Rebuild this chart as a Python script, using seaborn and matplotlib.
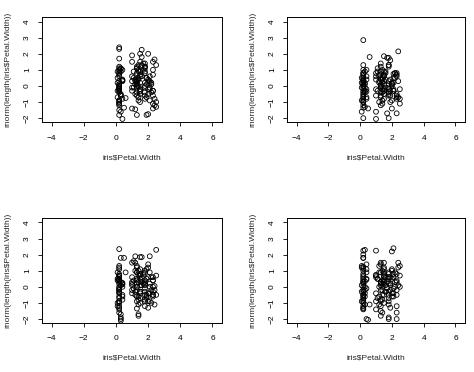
import numpy as np
import pandas as pd
import seaborn as sns
import matplotlib.pyplot as plt

# iris$Petal.Width (150 flowers, dataset order)
petal_width = [
    0.2, 0.2, 0.2, 0.2, 0.2, 0.4, 0.3, 0.2, 0.2, 0.1,
    0.2, 0.2, 0.1, 0.1, 0.2, 0.4, 0.4, 0.3, 0.3, 0.3,
    0.2, 0.4, 0.2, 0.5, 0.2, 0.2, 0.4, 0.2, 0.2, 0.2,
    0.2, 0.4, 0.1, 0.2, 0.2, 0.2, 0.2, 0.1, 0.2, 0.2,
    0.3, 0.3, 0.2, 0.6, 0.4, 0.3, 0.2, 0.2, 0.2, 0.2,
    1.4, 1.5, 1.5, 1.3, 1.5, 1.3, 1.6, 1.0, 1.3, 1.4,
    1.0, 1.5, 1.0, 1.4, 1.3, 1.4, 1.5, 1.0, 1.5, 1.1,
    1.8, 1.3, 1.5, 1.2, 1.3, 1.4, 1.4, 1.7, 1.5, 1.0,
    1.1, 1.0, 1.2, 1.6, 1.5, 1.6, 1.5, 1.3, 1.3, 1.3,
    1.2, 1.4, 1.2, 1.0, 1.3, 1.2, 1.3, 1.3, 1.1, 1.3,
    2.5, 1.9, 2.1, 1.8, 2.2, 2.1, 1.7, 1.8, 1.8, 2.5,
    2.0, 1.9, 2.1, 2.0, 2.4, 2.3, 1.8, 2.2, 2.3, 1.5,
    2.3, 2.0, 2.0, 1.8, 2.1, 1.8, 1.8, 1.8, 2.1, 1.6,
    1.9, 2.0, 2.2, 1.5, 1.4, 2.3, 2.4, 1.8, 1.8, 2.1,
    2.4, 2.3, 1.9, 2.3, 2.5, 2.3, 1.9, 2.0, 2.3, 1.8,
]

# rnorm draws (top-left, top-right, bottom-left, bottom-right)
rnorm_1 = [
    0.9, -0.3, 2.4, 0.1, -1.1, 0.3, -0.6, 2.3, -0.9, 0.5,
    1.0, -0.1, -0.7, 0.2, 1.7, -2.05, 0.35, 0.9, -0.5, 1.1,
    -1.8, 0.4, -0.2, -1.35, 0.8, -1.2, 1.0, 0.0, -1.0, 0.6,
    -0.4, -0.8, 0.9, 1.2, -1.5, 0.3, -0.15, -0.3, 0.1, -1.1,
    -0.6, 1.05, -0.05, -0.75, 0.35, -1.6, 0.7, -0.9, -0.25, 1.1,
    0.5, 2.0, -0.2, -1.8, 0.9, 0.1, 2.25, 1.9, -0.4, 1.3,
    -1.4, 0.7, 0.3, -0.9, 1.1, 0.0, -0.5, 0.6, 1.5, -0.1,
    1.2, 0.4, -0.3, -1.45, 0.8, -0.7, 1.0, 1.4, 0.2, -0.3,
    0.5, 1.5, 0.3, 1.8, -0.2, 0.6, -1.0, 1.2, -0.1, 0.2,
    -0.5, 0.9, 0.1, -0.1, 1.1, 0.4, -0.6, 0.0, 0.9, 0.3,
    -1.0, -1.8, 0.3, 1.2, -0.4, -0.2, 1.0, -0.6, 0.2, 1.3,
    2.0, 0.5, -0.9, -1.75, 1.65, -1.1, 0.8, 0.1, -0.3, 0.6,
    1.5, 0.4, -0.5, 1.1, -0.1, -0.8, 0.0, 0.9, 0.6, 1.3,
    -0.7, -0.2, 0.2, -0.35, 0.4, 0.7, -0.8, -0.4, 1.4, 0.2,
    -1.2, -1.4, 0.1, 1.0, -1.3, -0.3, 0.5, 0.3, -0.6, -0.1,
]
rnorm_2 = [
    0.3, -0.5, 2.85, 0.0, -1.0, 1.0, -0.3, 0.8, -2.0, -1.6,
    0.5, -0.8, 0.2, -0.1, 1.3, 0.4, -0.7, 0.9, -1.3, 0.1,
    -0.4, 0.6, 0.2, -1.4, -0.9, 0.7, -0.2, 0.4, -1.2, -0.6,
    0.1, -0.35, -0.9, 0.6, -0.15, 0.3, -0.7, 0.5, 0.0, -1.0,
    0.2, -0.4, 1.0, 1.8, -0.8, -0.1, 0.8, -0.3, 0.35, -1.35,
    0.5, 1.85, -0.3, 1.4, 0.1, -0.6, 0.8, -2.05, 0.9, -0.2,
    -1.6, 0.3, 0.6, -0.9, -1.2, 0.2, 0.7, 0.4, -0.5, 1.1,
    1.3, 0.0, -0.8, -1.0, 0.5, 1.0, -0.4, 1.75, 0.6, 0.8,
    -0.3, -0.6, 0.2, -0.1, 0.9, 0.4, -0.2, 0.1, -0.7, 1.2,
    0.7, -1.1, 0.3, -0.2, 0.0, 0.6, -0.4, -0.1, 0.9, 0.4,
    -0.2, 1.6, 0.5, -2.0, 0.8, -0.3, -1.7, 1.3, -0.1, -0.8,
    -1.4, -0.6, 0.2, 0.0, 2.15, 0.7, 0.3, 0.8, -0.5, 0.6,
    -0.7, -0.9, 0.1, -0.4, 0.75, 1.75, -0.6, -0.2, -0.3, 0.9,
    -1.0, 0.2, 0.5, -0.3, 0.4, -1.7, 0.3, 1.2, -0.5, -0.2,
    -0.7, 0.8, 0.4, -0.8, -1.1, 0.6, -0.3, 0.15, -0.6, 0.1,
]
rnorm_3 = [
    0.7, -0.9, 1.3, 0.2, -1.2, 0.0, 1.8, -0.4, 0.5, -1.0,
    2.35, -0.6, 0.4, 0.9, -0.3, 0.2, -0.8, -2.1, -1.9, 0.1,
    -1.4, -0.5, 1.1, 1.8, 0.3, -0.2, 0.25, 0.6, -1.6, 0.8,
    -0.7, 0.15, -1.2, 1.2, -0.1, 0.4, -0.9, 0.5, -0.35, 0.0,
    -2.0, 0.3, -1.3, 0.9, -0.6, -1.7, 0.7, -0.15, 0.45, -1.0,
    0.3, 1.85, -0.4, 1.2, 0.8, -1.35, 0.6, 1.5, 0.0, -1.8,
    -0.2, 0.5, 0.2, -0.6, 0.9, 1.0, -0.7, 0.3, 0.1, 1.6,
    -0.5, 0.4, -0.3, 1.9, -0.9, 0.7, -1.7, 0.2, 1.1, -0.4,
    -0.1, 0.6, -0.5, 1.85, 0.8, 0.1, -1.0, 1.3, -0.2, 0.5,
    1.0, -0.8, -0.3, 0.1, 0.9, 1.5, 0.2, -0.6, 0.4, 0.0,
    2.3, -0.5, 1.9, 0.3, -1.0, -0.4, 0.8, -1.2, 0.2, 0.7,
    -1.3, 0.5, 0.0, 1.2, -1.1, -0.6, 1.0, -0.2, 0.4, -0.3,
    -0.5, 1.4, 0.6, -0.8, -0.9, 0.9, 0.1, -0.1, 0.2, 0.3,
    -0.7, -0.4, 0.6, 0.7, -1.1, -0.5, 0.05, 0.4, -0.9, 0.9,
    -0.2, 0.6, -0.6, -0.3, -0.5, 0.4, 1.1, -0.9, 0.0, -0.3,
]
rnorm_4 = [
    1.25, -0.5, 2.25, 0.3, -1.3, 0.5, 2.3, -0.7, 1.8, 0.1,
    -0.2, 2.0, 1.2, -0.9, 0.4, -2.0, 1.4, -0.4, 0.0, -1.1,
    0.6, 0.9, -0.6, -2.05, 0.2, -1.4, 0.45, 1.15, -0.3, -0.8,
    0.7, -0.1, 1.3, -1.0, 0.3, -0.5, 1.0, -0.3, 0.0, -1.2,
    0.35, -0.6, 0.8, -1.1, 1.1, -0.2, -0.9, 0.5, 1.8, -1.35,
    0.2, -0.5, 1.5, -1.8, 0.8, 0.1, -0.3, 2.25, 1.4, -1.6,
    -1.4, 0.6, 0.7, 0.0, -0.9, 1.0, 0.3, -0.4, 1.2, -0.7,
    0.6, -1.2, 0.2, 0.9, 1.5, -0.2, 0.4, -0.1, -1.0, -0.9,
    0.5, 0.75, -0.6, 0.1, 1.1, -0.3, 0.9, -1.5, 0.3, -0.8,
    0.0, -0.5, 1.3, 0.6, 0.2, -1.1, -0.2, 0.9, 0.5, 0.3,
    0.7, -1.3, 2.4, -2.0, 0.9, 0.6, 0.3, -1.9, 0.8, 1.3,
    2.2, 0.1, -0.4, 1.0, 1.5, -1.6, -0.3, 0.0, -2.0, 0.4,
    -1.2, -0.6, 0.5, -1.1, 0.8, 0.2, -0.5, 0.9, -0.1, 0.6,
    -0.2, 1.1, 0.3, 0.7, -0.8, 0.4, 1.2, -0.9, 0.5, -0.6,
    0.1, -0.5, 0.2, 0.8, 0.0, -0.2, 0.6, -0.4, 0.3, -0.7,
]

x_ticks = [-4, -2, 0, 2, 4, 6]
y_ticks = [-2, -1, 0, 1, 2, 3, 4]

sns.set_style("white")
plt.rcParams["font.family"] = ["Liberation Sans", "DejaVu Sans"]

fig = plt.figure(figsize=(4.74, 3.72), dpi=100)

# panel boxes in figure fractions [left, bottom, width, height]
cajas = [
    [0.0886, 0.672, 0.380, 0.282],
    [0.6055, 0.672, 0.3755, 0.282],
    [0.0886, 0.132, 0.380, 0.282],
    [0.6055, 0.132, 0.3755, 0.282],
]

for caja, y_vals in zip(cajas, [rnorm_1, rnorm_2, rnorm_3, rnorm_4]):
    ax = fig.add_axes(caja)
    df = pd.DataFrame({"x": petal_width, "y": y_vals})
    sns.scatterplot(data=df, x="x", y="y", ax=ax, marker="o", s=12,
                    facecolor="none", edgecolor="black", linewidth=0.6)
    ax.set_xlim(-4.6, 6.6)
    ax.set_ylim(-2.24, 4.28)
    ax.set_xticks(x_ticks)
    ax.set_yticks(y_ticks)
    for s in ax.spines.values():
        s.set_visible(True)
        s.set_color("black")
        s.set_linewidth(0.7)
    ax.tick_params(axis="both", direction="out", length=3, width=0.6,
                   labelsize=6, colors="black", bottom=True, left=True)
    ax.tick_params(axis="x", pad=6)
    ax.tick_params(axis="y", pad=5, labelrotation=90)
    for lab in ax.get_yticklabels():
        lab.set_va("center")
    ax.set_xlabel("iris$Petal.Width", fontsize=6, labelpad=9)
    ax.set_ylabel("rnorm(length(iris$Petal.Width))", fontsize=6, labelpad=9)

plt.savefig("out.png", dpi=100)
